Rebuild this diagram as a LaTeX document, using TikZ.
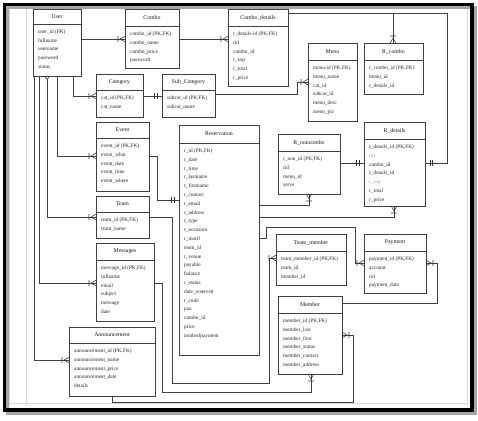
\documentclass[tikz,border=0pt]{standalone}
\usepackage{fontspec}
\setmainfont{Liberation Serif}
\tikzset{
  bx/.style={draw=black!75, line width=0.55pt, fill=white, inner sep=0pt, outer sep=0pt, anchor=north west},
  conn/.style={draw=black!75, line width=0.6pt},
  ttl/.style={font=\fontsize{5.8}{6}\selectfont, inner sep=0pt, text=black!90},
  fld/.style={font=\fontsize{5.3}{6}\selectfont, inner sep=0pt, anchor=base west, text=black!85},
  mone/.pic={\draw[black!80, line width=0.55pt] (-7,-2.8) -- (-7,2.8) (-5,0) -- (0,2.8) (-5,0) -- (0,-2.8);},
  dbar/.pic={\draw[black!80, line width=0.55pt] (-7.5,-2.8) -- (-7.5,2.8) (-5,-2.8) -- (-5,2.8);},
}
% #1 name, #2 x1, #3 y1, #4 x2, #5 y2, #6 header y, #7 title, #8 fields
\newcommand{\erent}[8]{%
  \node[bx, minimum width={(#4-#2)*1pt}, minimum height={(#5-#3)*1pt}] (#1) at (#2,#3) {};
  \draw[black!75, line width=0.55pt] (#2,#6) -- (#4,#6);
  \node[ttl] (#1-t) at ({(#2+#4)/2},{(#3+#6)/2}) {#7};
  \foreach \t [count=\i] in {#8} {\node[fld] (#1-\i) at ({#2+5},{#6+9.4+(\i-1)*8.8}) {\t};}
}
\newcommand{\gr}[1]{\textcolor{black!40}{#1}}
\begin{document}
\begin{tikzpicture}[x=1pt, y=-1pt]
\useasboundingbox (0,0) rectangle (478,420);
\fill[white] (0,0) rectangle (478,420);
% frame
\draw[black!15, line width=0.6pt] (9,7) -- (9,406);
\draw[black!15, line width=0.6pt] (26,7) -- (26,406);
\draw[black!15, line width=0.6pt] (9,403) -- (467,403);
\draw[black!15, line width=0.6pt] (467,7) -- (467,406);
\draw[black!35, line width=3pt] (7.5,7.5) rectangle (475,413);
\draw[black, line width=3.2pt] (4.5,4.5) rectangle (472,410);

% entities
\erent{user}{33}{9}{81}{76}{24}{User}{{user\_id (PK)},fullname,username,password,status}
\erent{combo}{125}{9}{179}{68}{26}{Combo}{{combo\_id (PK,FK)},combo\_name,combo\_price,password}
\erent{cdet}{228}{9}{288}{86}{26}{Combo\_details}{{r\_details-id (PK,FK)},rid,combo\_id,r\_sop,r\_total,r\_price}
\erent{menu}{308}{43}{357}{121}{60}{Menu}{{menu-id (PK,FK)},menu\_name,cat\_id,subcat\_id,menu\_desc,menu\_pic}
\erent{rcombo}{364}{43}{423}{94}{60}{R\_combo}{{r\_combo\_id (PK,FK)},menu\_id,r\_details\_id}
\erent{cat}{96}{74}{143}{117}{90}{Category}{{cat\_id (PK,FK)},cat\_name}
\erent{subcat}{162}{74}{215}{117}{90}{Sub\_Category}{{subcat\_id (PK,FK)},subcat\_name}
\erent{event}{96}{122}{149}{191}{138}{Event}{{event\_id (PK,FK)},event\_what,event\_date,event\_time,event\_where}
\erent{resv}{179}{125}{259}{355}{143}{Reservation}{{r\_id (PK,FK)},r\_date,r\_time,r\_lastname,r\_firstname,r\_contact,r\_email,r\_address,r\_type,r\_occasion,r\_motif,team\_id,r\_venue,payable,balance,r\_status,date\_reserved,r\_code,pax,combo\_id,price,modeofpayment}
\erent{rnon}{278}{134}{340}{194}{151}{R\_noncombo}{{r\_non\_id (PK,FK)},rid,menu\_id,serve}
\erent{rdet}{364}{122}{425}{206}{139}{R\_details}{{r\_details\_id (PK,FK)},{\gr{rid}},combo\_id,r\_details\_id,{\gr{r\_sop}},r\_total,r\_price}
\erent{team}{96}{196}{149}{238}{212}{Team}{{team\_id (PK,FK)},team\_name}
\erent{msg}{96}{243}{154}{321}{260}{Messages}{{message\_id (PK,FK)},fullname,email,subject,message,date}
\erent{ann}{69}{327}{155}{396}{343}{Announcement}{{announcement\_id (PK,FK)},announcement\_name,announcement\_price,announcement\_date,details}
\erent{tmem}{276}{234}{346}{285}{251}{Team\_member}{{team\_member\_id (PK,FK)},team\_id,member\_id}
\erent{pay}{364}{234}{426}{293}{251}{Payment}{{payment\_id (PK,FK)},account,rid,payment\_date}
\erent{mem}{278}{296}{342}{374}{313}{Member}{{member\_id (PK,FK)},member\_last,member\_first,member\_status,member\_contact,member\_address}

% connectors
\draw[conn] (user.east |- 0,39) -- (combo.west |- 0,39);
\pic at (combo.west |- 0,39) {mone};
\draw[conn] (combo.east |- 0,39) -- (cdet.west |- 0,39);
\pic at (cdet.west |- 0,39) {mone};
\coordinate (j1) at (393,13);
\draw[conn] (cdet.east |- 0,13) -- (j1) -- (rcombo.north -| j1);
\pic[rotate=-90] at (rcombo.north -| j1) {mone};
\draw[conn] (j1) -- (447,13) -- (447,163) -- (rdet.east |- 0,163);
\pic[rotate=180] at (rdet.east |- 0,163) {dbar};
\draw[conn] (subcat.east |- 0,94) -- (297,94) -- (297,82) -- (menu.west |- 0,82);
\pic at (menu.west |- 0,82) {mone};
\draw[conn] (user.south -| 73,0) |- (cat.west |- 0,96);
\pic at (cat.west |- 0,96) {mone};
\draw[conn] (cat.east |- 0,96) -- (subcat.west |- 0,96);
\pic at (subcat.west |- 0,96) {dbar};
\draw[conn] (user.south -| 57,0) |- (event.west |- 0,156);
\pic at (event.west |- 0,156) {mone};
\draw[conn] (user.south -| 47,0) |- (team.west |- 0,217);
\pic at (team.west |- 0,217) {mone};
\draw[conn, fill=white] (47,77.6) circle (1.7);
\draw[conn] (user.south -| 39,0) |- (msg.west |- 0,283);
\pic at (msg.west |- 0,283) {mone};
\draw[conn] (user.south -| 34,0) |- (ann.west |- 0,360);
\pic at (ann.west |- 0,360) {mone};
\draw[conn] (event.east |- 0,156) -- (157,156) -- (157,200) -- (resv.west |- 0,200);
\pic at (resv.west |- 0,200) {dbar};
\draw[conn] (team.east |- 0,217) -- (172,217) -- (172,383) -- (269,383) -- (269,258) -- (tmem.west |- 0,258);
\pic at (tmem.west |- 0,258) {mone};
\draw[conn] (msg.east |- 0,283) -- (162,283) -- (162,392) -- (311,392) -- (mem.south -| 311,0);
\pic[rotate=90] at (mem.south -| 311,0) {mone};
\draw[conn] (ann.south -| 112,0) -- (112,402) -- (353,402) -- (353,335) -- (mem.east |- 0,335);
\pic[rotate=180] at (mem.east |- 0,335) {mone};
\draw[conn] (resv.east |- 0,205) -- (309,205) -- (rnon.south -| 309,0);
\pic[rotate=90] at (rnon.south -| 309,0) {mone};
\draw[conn] (resv.east |- 0,217) -- (394,217) -- (rdet.south -| 394,0);
\pic[rotate=90] at (rdet.south -| 394,0) {mone};
\draw[conn] (resv.east |- 0,238) -- (266,238) -- (266,227) -- (355,227) -- (355,263) -- (pay.west |- 0,263);
\pic at (pay.west |- 0,263) {mone};
\draw[conn] (rnon.east |- 0,163) -- (rdet.west |- 0,163);
\pic at (rdet.west |- 0,163) {dbar};
\draw[conn] (mem.east |- 0,303) -- (437,303) -- (437,263) -- (pay.east |- 0,263);
\pic[rotate=180] at (pay.east |- 0,263) {mone};
\end{tikzpicture}
\end{document}
